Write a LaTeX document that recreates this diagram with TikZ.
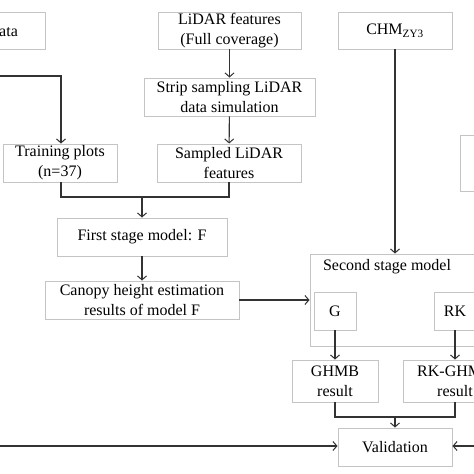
\documentclass[tikz,border=0pt]{standalone}
\usepackage{fontspec}
\setmainfont{Liberation Serif}
\usetikzlibrary{arrows.meta}
\definecolor{boxgray}{HTML}{C4C4C4}
\definecolor{linegray}{HTML}{333333}
\tikzset{
  fbox/.style={draw=boxgray, line width=0.9pt, fill=white, inner sep=0pt, align=center,
    font=\fontsize{16}{20}\selectfont},
  conn/.style={draw=linegray, line width=1.1pt},
  arr/.style={conn, -{Straight Barb[length=4pt,width=9pt,line width=1pt]}},
  lbl/.style={inner sep=0pt, font=\fontsize{16}{20}\selectfont}
}
\begin{document}
\begin{tikzpicture}[x=1pt,y=-1pt]
\useasboundingbox (0,0) rectangle (474,474);
\fill[white] (0,0) rectangle (474,474);
\clip (0,0) rectangle (474,474);
% boxes
\node[fbox, minimum width=115, minimum height=37] (data) at (-12.5,30.5) {};
\node[lbl, anchor=base west] (datatxt) at (-1,36) {ata};
\node[fbox, minimum width=143, minimum height=37] (lidar) at (229.5,30.5) {LiDAR features\\(Full coverage)};
\node[fbox, minimum width=114, minimum height=37] (chm) at (395,30.5) {CHM\textsubscript{ZY3}};
\node[fbox, minimum width=171, minimum height=38] (strip) at (229.5,97) {Strip sampling LiDAR\\data simulation};
\node[fbox, minimum width=114, minimum height=38] (train) at (60,163) {Training plots\\(n=37)};
\node[fbox, minimum width=144, minimum height=38] (sampled) at (229,163) {Sampled LiDAR\\features};
\node[fbox, minimum width=120, minimum height=56] (rbox) at (520,163) {};
\node[fbox, minimum width=170, minimum height=38] (first) at (142,237) {First stage model: F};
\node[fbox, minimum width=194, minimum height=38] (canopy) at (142,300) {Canopy height estimation\\results of model F};
\node[fbox, minimum width=170, minimum height=92] (second) at (395,300) {};
\node[lbl] (sectxt) at (387,267) {Second stage model};
\node[fbox, minimum width=42, minimum height=38] (g) at (335,311) {G};
\node[fbox, minimum width=42, minimum height=38] (rk) at (455,311) {RK};
\node[fbox, minimum width=86, minimum height=42] (ghmb) at (335,381) {GHMB\\result};
\node[fbox, minimum width=104, minimum height=42] (rkghmb) at (455,381) {RK-GHMB\\result};
\node[fbox, minimum width=114, minimum height=38] (valid) at (395,447) {Validation};
% connectors
\coordinate (tl) at (0,76);
\coordinate (tc) at (61,76);
\draw[arr] (tl) -- (tc) -- (train.north -| tc);
\draw[arr] (lidar) -- (strip);
\draw[arr] (strip) -- (sampled);
\coordinate (j1) at (142,197);
\draw[conn] (train.south -| tc) |- (j1) -| (sampled.south);
\draw[arr] (j1) -- (first);
\draw[arr] (first) -- (canopy);
\draw[arr] (canopy) -- (second);
\draw[arr] (chm) -- (second);
\draw[arr] (g) -- (ghmb);
\draw[arr] (rk) -- (rkghmb);
\coordinate (j2) at (395,417);
\draw[conn] (ghmb.south) |- (j2) -| (rkghmb.south);
\draw[arr] (j2) -- (valid);
\coordinate (bl) at (0,446);
\coordinate (br) at (474,446);
\draw[arr] (bl) -- (valid.west |- bl);
\draw[arr] (br) -- (valid.east |- br);
\end{tikzpicture}
\end{document}
